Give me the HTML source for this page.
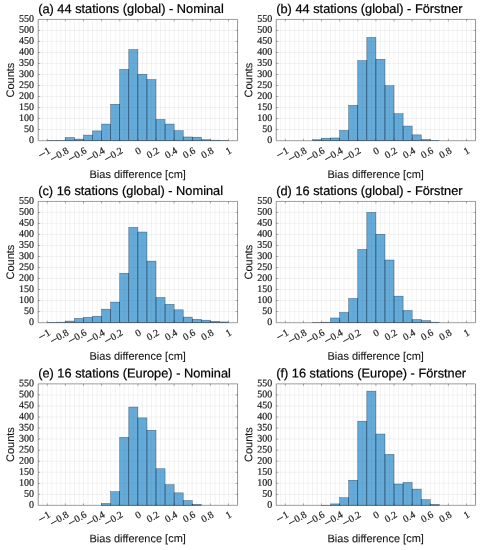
<!DOCTYPE html>
<html><head><meta charset="utf-8"><title>Bias difference histograms</title>
<style>html,body{margin:0;padding:0;background:#fff}svg{display:block}.s{font-family:"Liberation Sans",sans-serif;fill:#000;stroke:#000;stroke-width:0.22px}.l{fill:#151515;stroke:#151515;stroke-width:0.1px}.r{font-family:"Liberation Serif",serif;fill:#222;font-size:10px;stroke:#222;stroke-width:0.2px}</style></head><body>
<svg width="483" height="550" viewBox="0 0 483 550">
<rect width="483" height="550" fill="#fff"/>
<g>
<path d="M42.73 19.45V140.7M47.26 19.45V140.7M51.79 19.45V140.7M56.32 19.45V140.7M60.85 19.45V140.7M65.38 19.45V140.7M69.91 19.45V140.7M74.45 19.45V140.7M78.98 19.45V140.7M83.51 19.45V140.7M88.04 19.45V140.7M92.57 19.45V140.7M97.1 19.45V140.7M101.63 19.45V140.7M106.16 19.45V140.7M110.69 19.45V140.7M115.22 19.45V140.7M119.75 19.45V140.7M124.28 19.45V140.7M128.81 19.45V140.7M133.34 19.45V140.7M137.88 19.45V140.7M142.41 19.45V140.7M146.94 19.45V140.7M151.47 19.45V140.7M156 19.45V140.7M160.53 19.45V140.7M165.06 19.45V140.7M169.59 19.45V140.7M174.12 19.45V140.7M178.65 19.45V140.7M183.18 19.45V140.7M187.71 19.45V140.7M192.24 19.45V140.7M196.77 19.45V140.7M201.3 19.45V140.7M205.84 19.45V140.7M210.37 19.45V140.7M214.9 19.45V140.7M219.43 19.45V140.7M223.96 19.45V140.7M228.49 19.45V140.7M233.02 19.45V140.7M38.2 129.58H237.55M38.2 118.56H237.55M38.2 107.54H237.55M38.2 96.52H237.55M38.2 85.5H237.55M38.2 74.48H237.55M38.2 63.46H237.55M38.2 52.44H237.55M38.2 41.42H237.55M38.2 30.4H237.55" stroke="#262626" stroke-opacity="0.095" stroke-width="0.6" fill="none"/>
<rect x="47.26" y="140.38" width="9.06" height="0.32" fill="#0072bd" fill-opacity="0.6" stroke="#001a33" stroke-opacity="0.62" stroke-width="0.5"/>
<rect x="56.32" y="140.38" width="9.06" height="0.32" fill="#0072bd" fill-opacity="0.6" stroke="#001a33" stroke-opacity="0.62" stroke-width="0.5"/>
<rect x="65.38" y="137.51" width="9.06" height="3.19" fill="#0072bd" fill-opacity="0.6" stroke="#001a33" stroke-opacity="0.62" stroke-width="0.5"/>
<rect x="74.45" y="139.06" width="9.06" height="1.64" fill="#0072bd" fill-opacity="0.6" stroke="#001a33" stroke-opacity="0.62" stroke-width="0.5"/>
<rect x="83.51" y="135.09" width="9.06" height="5.61" fill="#0072bd" fill-opacity="0.6" stroke="#001a33" stroke-opacity="0.62" stroke-width="0.5"/>
<rect x="92.57" y="130.9" width="9.06" height="9.8" fill="#0072bd" fill-opacity="0.6" stroke="#001a33" stroke-opacity="0.62" stroke-width="0.5"/>
<rect x="101.63" y="124.07" width="9.06" height="16.63" fill="#0072bd" fill-opacity="0.6" stroke="#001a33" stroke-opacity="0.62" stroke-width="0.5"/>
<rect x="110.69" y="104.23" width="9.06" height="36.47" fill="#0072bd" fill-opacity="0.6" stroke="#001a33" stroke-opacity="0.62" stroke-width="0.5"/>
<rect x="119.75" y="69.41" width="9.06" height="71.29" fill="#0072bd" fill-opacity="0.6" stroke="#001a33" stroke-opacity="0.62" stroke-width="0.5"/>
<rect x="128.81" y="49.57" width="9.06" height="91.13" fill="#0072bd" fill-opacity="0.6" stroke="#001a33" stroke-opacity="0.62" stroke-width="0.5"/>
<rect x="137.88" y="74.26" width="9.06" height="66.44" fill="#0072bd" fill-opacity="0.6" stroke="#001a33" stroke-opacity="0.62" stroke-width="0.5"/>
<rect x="146.94" y="79.55" width="9.06" height="61.15" fill="#0072bd" fill-opacity="0.6" stroke="#001a33" stroke-opacity="0.62" stroke-width="0.5"/>
<rect x="156" y="119.44" width="9.06" height="21.26" fill="#0072bd" fill-opacity="0.6" stroke="#001a33" stroke-opacity="0.62" stroke-width="0.5"/>
<rect x="165.06" y="124.07" width="9.06" height="16.63" fill="#0072bd" fill-opacity="0.6" stroke="#001a33" stroke-opacity="0.62" stroke-width="0.5"/>
<rect x="174.12" y="130.68" width="9.06" height="10.02" fill="#0072bd" fill-opacity="0.6" stroke="#001a33" stroke-opacity="0.62" stroke-width="0.5"/>
<rect x="183.18" y="136.96" width="9.06" height="3.74" fill="#0072bd" fill-opacity="0.6" stroke="#001a33" stroke-opacity="0.62" stroke-width="0.5"/>
<rect x="192.24" y="137.18" width="9.06" height="3.52" fill="#0072bd" fill-opacity="0.6" stroke="#001a33" stroke-opacity="0.62" stroke-width="0.5"/>
<rect x="201.3" y="139.72" width="9.06" height="0.98" fill="#0072bd" fill-opacity="0.6" stroke="#001a33" stroke-opacity="0.62" stroke-width="0.5"/>
<rect x="210.37" y="140.16" width="9.06" height="0.54" fill="#0072bd" fill-opacity="0.6" stroke="#001a33" stroke-opacity="0.62" stroke-width="0.5"/>
<rect x="219.43" y="140.38" width="9.06" height="0.32" fill="#0072bd" fill-opacity="0.6" stroke="#001a33" stroke-opacity="0.62" stroke-width="0.5"/>
<path d="M38.2 19.45H237.55M38.2 140.7H237.55" fill="none" stroke="#262626" stroke-opacity="0.56" stroke-width="0.8"/>
<path d="M38.2 19.45V140.7M237.55 19.45V140.7" fill="none" stroke="#262626" stroke-opacity="0.62" stroke-width="0.8"/>
<path d="M47.26 140.7v-2M47.26 19.45v2M65.38 140.7v-2M65.38 19.45v2M83.51 140.7v-2M83.51 19.45v2M101.63 140.7v-2M101.63 19.45v2M119.75 140.7v-2M119.75 19.45v2M137.88 140.7v-2M137.88 19.45v2M156 140.7v-2M156 19.45v2M174.12 140.7v-2M174.12 19.45v2M192.24 140.7v-2M192.24 19.45v2M210.37 140.7v-2M210.37 19.45v2M228.49 140.7v-2M228.49 19.45v2M38.2 129.58h2M237.55 129.58h-2M38.2 118.56h2M237.55 118.56h-2M38.2 107.54h2M237.55 107.54h-2M38.2 96.52h2M237.55 96.52h-2M38.2 85.5h2M237.55 85.5h-2M38.2 74.48h2M237.55 74.48h-2M38.2 63.46h2M237.55 63.46h-2M38.2 52.44h2M237.55 52.44h-2M38.2 41.42h2M237.55 41.42h-2M38.2 30.4h2M237.55 30.4h-2" stroke="#262626" stroke-opacity="0.6" stroke-width="0.6" fill="none"/>
<text class="r" transform="translate(34.1 143) rotate(-0.05)" text-anchor="end">0</text>
<text class="r" transform="translate(34.1 131.98) rotate(-0.05)" text-anchor="end">50</text>
<text class="r" transform="translate(34.1 120.96) rotate(-0.05)" text-anchor="end">100</text>
<text class="r" transform="translate(34.1 109.94) rotate(-0.05)" text-anchor="end">150</text>
<text class="r" transform="translate(34.1 98.92) rotate(-0.05)" text-anchor="end">200</text>
<text class="r" transform="translate(34.1 87.9) rotate(-0.05)" text-anchor="end">250</text>
<text class="r" transform="translate(34.1 76.88) rotate(-0.05)" text-anchor="end">300</text>
<text class="r" transform="translate(34.1 65.86) rotate(-0.05)" text-anchor="end">350</text>
<text class="r" transform="translate(34.1 54.84) rotate(-0.05)" text-anchor="end">400</text>
<text class="r" transform="translate(34.1 43.82) rotate(-0.05)" text-anchor="end">450</text>
<text class="r" transform="translate(34.1 32.8) rotate(-0.05)" text-anchor="end">500</text>
<text class="r" transform="translate(34.1 21.78) rotate(-0.05)" text-anchor="end">550</text>
<g transform="translate(51.16 152.4) rotate(-30)"><text class="r" stroke-width="0" transform="translate(-12.55 0.5) scale(1.34 1)">−</text><text class="r" text-anchor="end">1</text></g>
<g transform="translate(69.28 152.4) rotate(-30)"><text class="r" stroke-width="0" transform="translate(-20.05 0.5) scale(1.34 1)">−</text><text class="r" text-anchor="end">0.8</text></g>
<g transform="translate(87.41 152.4) rotate(-30)"><text class="r" stroke-width="0" transform="translate(-20.05 0.5) scale(1.34 1)">−</text><text class="r" text-anchor="end">0.6</text></g>
<g transform="translate(105.53 152.4) rotate(-30)"><text class="r" stroke-width="0" transform="translate(-20.05 0.5) scale(1.34 1)">−</text><text class="r" text-anchor="end">0.4</text></g>
<g transform="translate(123.65 152.4) rotate(-30)"><text class="r" stroke-width="0" transform="translate(-20.05 0.5) scale(1.34 1)">−</text><text class="r" text-anchor="end">0.2</text></g>
<g transform="translate(141.78 152.4) rotate(-30)"><text class="r" text-anchor="end">0</text></g>
<g transform="translate(159.9 152.4) rotate(-30)"><text class="r" text-anchor="end">0.2</text></g>
<g transform="translate(178.02 152.4) rotate(-30)"><text class="r" text-anchor="end">0.4</text></g>
<g transform="translate(196.14 152.4) rotate(-30)"><text class="r" text-anchor="end">0.6</text></g>
<g transform="translate(214.27 152.4) rotate(-30)"><text class="r" text-anchor="end">0.8</text></g>
<g transform="translate(232.39 152.4) rotate(-30)"><text class="r" text-anchor="end">1</text></g>
<text class="s l" transform="translate(137.68 178) rotate(-0.05)" font-size="11" text-anchor="middle">Bias difference [cm]</text>
<text class="s l" transform="translate(14.1 80.07) rotate(-90.05)" font-size="11" text-anchor="middle">Counts</text>
<text class="s" transform="translate(38.15 13.15) rotate(-0.05)" font-size="12.8">(a) 44 stations (global) - Nominal</text>
</g>
<g>
<path d="M280.78 19.45V140.7M285.31 19.45V140.7M289.84 19.45V140.7M294.37 19.45V140.7M298.9 19.45V140.7M303.43 19.45V140.7M307.96 19.45V140.7M312.49 19.45V140.7M317.02 19.45V140.7M321.55 19.45V140.7M326.07 19.45V140.7M330.6 19.45V140.7M335.13 19.45V140.7M339.66 19.45V140.7M344.19 19.45V140.7M348.72 19.45V140.7M353.25 19.45V140.7M357.78 19.45V140.7M362.31 19.45V140.7M366.84 19.45V140.7M371.37 19.45V140.7M375.9 19.45V140.7M380.43 19.45V140.7M384.96 19.45V140.7M389.49 19.45V140.7M394.02 19.45V140.7M398.55 19.45V140.7M403.08 19.45V140.7M407.61 19.45V140.7M412.14 19.45V140.7M416.67 19.45V140.7M421.2 19.45V140.7M425.73 19.45V140.7M430.25 19.45V140.7M434.78 19.45V140.7M439.31 19.45V140.7M443.84 19.45V140.7M448.37 19.45V140.7M452.9 19.45V140.7M457.43 19.45V140.7M461.96 19.45V140.7M466.49 19.45V140.7M471.02 19.45V140.7M276.25 129.58H475.55M276.25 118.56H475.55M276.25 107.54H475.55M276.25 96.52H475.55M276.25 85.5H475.55M276.25 74.48H475.55M276.25 63.46H475.55M276.25 52.44H475.55M276.25 41.42H475.55M276.25 30.4H475.55" stroke="#262626" stroke-opacity="0.095" stroke-width="0.6" fill="none"/>
<rect x="312.49" y="139.72" width="9.06" height="0.98" fill="#0072bd" fill-opacity="0.6" stroke="#001a33" stroke-opacity="0.62" stroke-width="0.5"/>
<rect x="321.55" y="138.18" width="9.06" height="2.52" fill="#0072bd" fill-opacity="0.6" stroke="#001a33" stroke-opacity="0.62" stroke-width="0.5"/>
<rect x="330.6" y="137.96" width="9.06" height="2.74" fill="#0072bd" fill-opacity="0.6" stroke="#001a33" stroke-opacity="0.62" stroke-width="0.5"/>
<rect x="339.66" y="130.46" width="9.06" height="10.24" fill="#0072bd" fill-opacity="0.6" stroke="#001a33" stroke-opacity="0.62" stroke-width="0.5"/>
<rect x="348.72" y="105.34" width="9.06" height="35.36" fill="#0072bd" fill-opacity="0.6" stroke="#001a33" stroke-opacity="0.62" stroke-width="0.5"/>
<rect x="357.78" y="60.59" width="9.06" height="80.11" fill="#0072bd" fill-opacity="0.6" stroke="#001a33" stroke-opacity="0.62" stroke-width="0.5"/>
<rect x="366.84" y="37.45" width="9.06" height="103.25" fill="#0072bd" fill-opacity="0.6" stroke="#001a33" stroke-opacity="0.62" stroke-width="0.5"/>
<rect x="375.9" y="59.27" width="9.06" height="81.43" fill="#0072bd" fill-opacity="0.6" stroke="#001a33" stroke-opacity="0.62" stroke-width="0.5"/>
<rect x="384.96" y="85.72" width="9.06" height="54.98" fill="#0072bd" fill-opacity="0.6" stroke="#001a33" stroke-opacity="0.62" stroke-width="0.5"/>
<rect x="394.02" y="113.71" width="9.06" height="26.99" fill="#0072bd" fill-opacity="0.6" stroke="#001a33" stroke-opacity="0.62" stroke-width="0.5"/>
<rect x="403.08" y="126.05" width="9.06" height="14.65" fill="#0072bd" fill-opacity="0.6" stroke="#001a33" stroke-opacity="0.62" stroke-width="0.5"/>
<rect x="412.14" y="134.87" width="9.06" height="5.83" fill="#0072bd" fill-opacity="0.6" stroke="#001a33" stroke-opacity="0.62" stroke-width="0.5"/>
<rect x="421.2" y="139.5" width="9.06" height="1.2" fill="#0072bd" fill-opacity="0.6" stroke="#001a33" stroke-opacity="0.62" stroke-width="0.5"/>
<rect x="430.25" y="140.38" width="9.06" height="0.32" fill="#0072bd" fill-opacity="0.6" stroke="#001a33" stroke-opacity="0.62" stroke-width="0.5"/>
<path d="M276.25 19.45H475.55M276.25 140.7H475.55" fill="none" stroke="#262626" stroke-opacity="0.56" stroke-width="0.8"/>
<path d="M276.25 19.45V140.7M475.55 19.45V140.7" fill="none" stroke="#262626" stroke-opacity="0.62" stroke-width="0.8"/>
<path d="M285.31 140.7v-2M285.31 19.45v2M303.43 140.7v-2M303.43 19.45v2M321.55 140.7v-2M321.55 19.45v2M339.66 140.7v-2M339.66 19.45v2M357.78 140.7v-2M357.78 19.45v2M375.9 140.7v-2M375.9 19.45v2M394.02 140.7v-2M394.02 19.45v2M412.14 140.7v-2M412.14 19.45v2M430.25 140.7v-2M430.25 19.45v2M448.37 140.7v-2M448.37 19.45v2M466.49 140.7v-2M466.49 19.45v2M276.25 129.58h2M475.55 129.58h-2M276.25 118.56h2M475.55 118.56h-2M276.25 107.54h2M475.55 107.54h-2M276.25 96.52h2M475.55 96.52h-2M276.25 85.5h2M475.55 85.5h-2M276.25 74.48h2M475.55 74.48h-2M276.25 63.46h2M475.55 63.46h-2M276.25 52.44h2M475.55 52.44h-2M276.25 41.42h2M475.55 41.42h-2M276.25 30.4h2M475.55 30.4h-2" stroke="#262626" stroke-opacity="0.6" stroke-width="0.6" fill="none"/>
<text class="r" transform="translate(272.15 143) rotate(-0.05)" text-anchor="end">0</text>
<text class="r" transform="translate(272.15 131.98) rotate(-0.05)" text-anchor="end">50</text>
<text class="r" transform="translate(272.15 120.96) rotate(-0.05)" text-anchor="end">100</text>
<text class="r" transform="translate(272.15 109.94) rotate(-0.05)" text-anchor="end">150</text>
<text class="r" transform="translate(272.15 98.92) rotate(-0.05)" text-anchor="end">200</text>
<text class="r" transform="translate(272.15 87.9) rotate(-0.05)" text-anchor="end">250</text>
<text class="r" transform="translate(272.15 76.88) rotate(-0.05)" text-anchor="end">300</text>
<text class="r" transform="translate(272.15 65.86) rotate(-0.05)" text-anchor="end">350</text>
<text class="r" transform="translate(272.15 54.84) rotate(-0.05)" text-anchor="end">400</text>
<text class="r" transform="translate(272.15 43.82) rotate(-0.05)" text-anchor="end">450</text>
<text class="r" transform="translate(272.15 32.8) rotate(-0.05)" text-anchor="end">500</text>
<text class="r" transform="translate(272.15 21.78) rotate(-0.05)" text-anchor="end">550</text>
<g transform="translate(289.21 152.4) rotate(-30)"><text class="r" stroke-width="0" transform="translate(-12.55 0.5) scale(1.34 1)">−</text><text class="r" text-anchor="end">1</text></g>
<g transform="translate(307.33 152.4) rotate(-30)"><text class="r" stroke-width="0" transform="translate(-20.05 0.5) scale(1.34 1)">−</text><text class="r" text-anchor="end">0.8</text></g>
<g transform="translate(325.45 152.4) rotate(-30)"><text class="r" stroke-width="0" transform="translate(-20.05 0.5) scale(1.34 1)">−</text><text class="r" text-anchor="end">0.6</text></g>
<g transform="translate(343.56 152.4) rotate(-30)"><text class="r" stroke-width="0" transform="translate(-20.05 0.5) scale(1.34 1)">−</text><text class="r" text-anchor="end">0.4</text></g>
<g transform="translate(361.68 152.4) rotate(-30)"><text class="r" stroke-width="0" transform="translate(-20.05 0.5) scale(1.34 1)">−</text><text class="r" text-anchor="end">0.2</text></g>
<g transform="translate(379.8 152.4) rotate(-30)"><text class="r" text-anchor="end">0</text></g>
<g transform="translate(397.92 152.4) rotate(-30)"><text class="r" text-anchor="end">0.2</text></g>
<g transform="translate(416.04 152.4) rotate(-30)"><text class="r" text-anchor="end">0.4</text></g>
<g transform="translate(434.15 152.4) rotate(-30)"><text class="r" text-anchor="end">0.6</text></g>
<g transform="translate(452.27 152.4) rotate(-30)"><text class="r" text-anchor="end">0.8</text></g>
<g transform="translate(470.39 152.4) rotate(-30)"><text class="r" text-anchor="end">1</text></g>
<text class="s l" transform="translate(375.7 178) rotate(-0.05)" font-size="11" text-anchor="middle">Bias difference [cm]</text>
<text class="s l" transform="translate(252.15 80.07) rotate(-90.05)" font-size="11" text-anchor="middle">Counts</text>
<text class="s" transform="translate(276.2 13.15) rotate(-0.05)" font-size="12.8">(b) 44 stations (global) - Förstner</text>
</g>
<g>
<path d="M42.73 201.45V322.7M47.26 201.45V322.7M51.79 201.45V322.7M56.32 201.45V322.7M60.85 201.45V322.7M65.38 201.45V322.7M69.91 201.45V322.7M74.45 201.45V322.7M78.98 201.45V322.7M83.51 201.45V322.7M88.04 201.45V322.7M92.57 201.45V322.7M97.1 201.45V322.7M101.63 201.45V322.7M106.16 201.45V322.7M110.69 201.45V322.7M115.22 201.45V322.7M119.75 201.45V322.7M124.28 201.45V322.7M128.81 201.45V322.7M133.34 201.45V322.7M137.88 201.45V322.7M142.41 201.45V322.7M146.94 201.45V322.7M151.47 201.45V322.7M156 201.45V322.7M160.53 201.45V322.7M165.06 201.45V322.7M169.59 201.45V322.7M174.12 201.45V322.7M178.65 201.45V322.7M183.18 201.45V322.7M187.71 201.45V322.7M192.24 201.45V322.7M196.77 201.45V322.7M201.3 201.45V322.7M205.84 201.45V322.7M210.37 201.45V322.7M214.9 201.45V322.7M219.43 201.45V322.7M223.96 201.45V322.7M228.49 201.45V322.7M233.02 201.45V322.7M38.2 311.58H237.55M38.2 300.56H237.55M38.2 289.54H237.55M38.2 278.52H237.55M38.2 267.5H237.55M38.2 256.48H237.55M38.2 245.46H237.55M38.2 234.44H237.55M38.2 223.42H237.55M38.2 212.4H237.55" stroke="#262626" stroke-opacity="0.095" stroke-width="0.6" fill="none"/>
<rect x="47.26" y="322.38" width="9.06" height="0.32" fill="#0072bd" fill-opacity="0.6" stroke="#001a33" stroke-opacity="0.62" stroke-width="0.5"/>
<rect x="56.32" y="322.16" width="9.06" height="0.54" fill="#0072bd" fill-opacity="0.6" stroke="#001a33" stroke-opacity="0.62" stroke-width="0.5"/>
<rect x="65.38" y="321.06" width="9.06" height="1.64" fill="#0072bd" fill-opacity="0.6" stroke="#001a33" stroke-opacity="0.62" stroke-width="0.5"/>
<rect x="74.45" y="318.41" width="9.06" height="4.29" fill="#0072bd" fill-opacity="0.6" stroke="#001a33" stroke-opacity="0.62" stroke-width="0.5"/>
<rect x="83.51" y="317.31" width="9.06" height="5.39" fill="#0072bd" fill-opacity="0.6" stroke="#001a33" stroke-opacity="0.62" stroke-width="0.5"/>
<rect x="92.57" y="316.21" width="9.06" height="6.49" fill="#0072bd" fill-opacity="0.6" stroke="#001a33" stroke-opacity="0.62" stroke-width="0.5"/>
<rect x="101.63" y="309.16" width="9.06" height="13.54" fill="#0072bd" fill-opacity="0.6" stroke="#001a33" stroke-opacity="0.62" stroke-width="0.5"/>
<rect x="110.69" y="302.1" width="9.06" height="20.6" fill="#0072bd" fill-opacity="0.6" stroke="#001a33" stroke-opacity="0.62" stroke-width="0.5"/>
<rect x="119.75" y="273.23" width="9.06" height="49.47" fill="#0072bd" fill-opacity="0.6" stroke="#001a33" stroke-opacity="0.62" stroke-width="0.5"/>
<rect x="128.81" y="227.39" width="9.06" height="95.31" fill="#0072bd" fill-opacity="0.6" stroke="#001a33" stroke-opacity="0.62" stroke-width="0.5"/>
<rect x="137.88" y="232.02" width="9.06" height="90.68" fill="#0072bd" fill-opacity="0.6" stroke="#001a33" stroke-opacity="0.62" stroke-width="0.5"/>
<rect x="146.94" y="261.11" width="9.06" height="61.59" fill="#0072bd" fill-opacity="0.6" stroke="#001a33" stroke-opacity="0.62" stroke-width="0.5"/>
<rect x="156" y="297.47" width="9.06" height="25.23" fill="#0072bd" fill-opacity="0.6" stroke="#001a33" stroke-opacity="0.62" stroke-width="0.5"/>
<rect x="165.06" y="304.31" width="9.06" height="18.39" fill="#0072bd" fill-opacity="0.6" stroke="#001a33" stroke-opacity="0.62" stroke-width="0.5"/>
<rect x="174.12" y="309.82" width="9.06" height="12.88" fill="#0072bd" fill-opacity="0.6" stroke="#001a33" stroke-opacity="0.62" stroke-width="0.5"/>
<rect x="183.18" y="317.09" width="9.06" height="5.61" fill="#0072bd" fill-opacity="0.6" stroke="#001a33" stroke-opacity="0.62" stroke-width="0.5"/>
<rect x="192.24" y="319.29" width="9.06" height="3.41" fill="#0072bd" fill-opacity="0.6" stroke="#001a33" stroke-opacity="0.62" stroke-width="0.5"/>
<rect x="201.3" y="320.18" width="9.06" height="2.52" fill="#0072bd" fill-opacity="0.6" stroke="#001a33" stroke-opacity="0.62" stroke-width="0.5"/>
<rect x="210.37" y="321.28" width="9.06" height="1.42" fill="#0072bd" fill-opacity="0.6" stroke="#001a33" stroke-opacity="0.62" stroke-width="0.5"/>
<rect x="219.43" y="321.94" width="9.06" height="0.76" fill="#0072bd" fill-opacity="0.6" stroke="#001a33" stroke-opacity="0.62" stroke-width="0.5"/>
<path d="M38.2 201.45H237.55M38.2 322.7H237.55" fill="none" stroke="#262626" stroke-opacity="0.56" stroke-width="0.8"/>
<path d="M38.2 201.45V322.7M237.55 201.45V322.7" fill="none" stroke="#262626" stroke-opacity="0.62" stroke-width="0.8"/>
<path d="M47.26 322.7v-2M47.26 201.45v2M65.38 322.7v-2M65.38 201.45v2M83.51 322.7v-2M83.51 201.45v2M101.63 322.7v-2M101.63 201.45v2M119.75 322.7v-2M119.75 201.45v2M137.88 322.7v-2M137.88 201.45v2M156 322.7v-2M156 201.45v2M174.12 322.7v-2M174.12 201.45v2M192.24 322.7v-2M192.24 201.45v2M210.37 322.7v-2M210.37 201.45v2M228.49 322.7v-2M228.49 201.45v2M38.2 311.58h2M237.55 311.58h-2M38.2 300.56h2M237.55 300.56h-2M38.2 289.54h2M237.55 289.54h-2M38.2 278.52h2M237.55 278.52h-2M38.2 267.5h2M237.55 267.5h-2M38.2 256.48h2M237.55 256.48h-2M38.2 245.46h2M237.55 245.46h-2M38.2 234.44h2M237.55 234.44h-2M38.2 223.42h2M237.55 223.42h-2M38.2 212.4h2M237.55 212.4h-2" stroke="#262626" stroke-opacity="0.6" stroke-width="0.6" fill="none"/>
<text class="r" transform="translate(34.1 325) rotate(-0.05)" text-anchor="end">0</text>
<text class="r" transform="translate(34.1 313.98) rotate(-0.05)" text-anchor="end">50</text>
<text class="r" transform="translate(34.1 302.96) rotate(-0.05)" text-anchor="end">100</text>
<text class="r" transform="translate(34.1 291.94) rotate(-0.05)" text-anchor="end">150</text>
<text class="r" transform="translate(34.1 280.92) rotate(-0.05)" text-anchor="end">200</text>
<text class="r" transform="translate(34.1 269.9) rotate(-0.05)" text-anchor="end">250</text>
<text class="r" transform="translate(34.1 258.88) rotate(-0.05)" text-anchor="end">300</text>
<text class="r" transform="translate(34.1 247.86) rotate(-0.05)" text-anchor="end">350</text>
<text class="r" transform="translate(34.1 236.84) rotate(-0.05)" text-anchor="end">400</text>
<text class="r" transform="translate(34.1 225.82) rotate(-0.05)" text-anchor="end">450</text>
<text class="r" transform="translate(34.1 214.8) rotate(-0.05)" text-anchor="end">500</text>
<text class="r" transform="translate(34.1 203.78) rotate(-0.05)" text-anchor="end">550</text>
<g transform="translate(51.16 334.4) rotate(-30)"><text class="r" stroke-width="0" transform="translate(-12.55 0.5) scale(1.34 1)">−</text><text class="r" text-anchor="end">1</text></g>
<g transform="translate(69.28 334.4) rotate(-30)"><text class="r" stroke-width="0" transform="translate(-20.05 0.5) scale(1.34 1)">−</text><text class="r" text-anchor="end">0.8</text></g>
<g transform="translate(87.41 334.4) rotate(-30)"><text class="r" stroke-width="0" transform="translate(-20.05 0.5) scale(1.34 1)">−</text><text class="r" text-anchor="end">0.6</text></g>
<g transform="translate(105.53 334.4) rotate(-30)"><text class="r" stroke-width="0" transform="translate(-20.05 0.5) scale(1.34 1)">−</text><text class="r" text-anchor="end">0.4</text></g>
<g transform="translate(123.65 334.4) rotate(-30)"><text class="r" stroke-width="0" transform="translate(-20.05 0.5) scale(1.34 1)">−</text><text class="r" text-anchor="end">0.2</text></g>
<g transform="translate(141.78 334.4) rotate(-30)"><text class="r" text-anchor="end">0</text></g>
<g transform="translate(159.9 334.4) rotate(-30)"><text class="r" text-anchor="end">0.2</text></g>
<g transform="translate(178.02 334.4) rotate(-30)"><text class="r" text-anchor="end">0.4</text></g>
<g transform="translate(196.14 334.4) rotate(-30)"><text class="r" text-anchor="end">0.6</text></g>
<g transform="translate(214.27 334.4) rotate(-30)"><text class="r" text-anchor="end">0.8</text></g>
<g transform="translate(232.39 334.4) rotate(-30)"><text class="r" text-anchor="end">1</text></g>
<text class="s l" transform="translate(137.68 359.8) rotate(-0.05)" font-size="11" text-anchor="middle">Bias difference [cm]</text>
<text class="s l" transform="translate(14.1 262.07) rotate(-90.05)" font-size="11" text-anchor="middle">Counts</text>
<text class="s" transform="translate(38.15 195.15) rotate(-0.05)" font-size="12.8">(c) 16 stations (global) - Nominal</text>
</g>
<g>
<path d="M280.78 201.45V322.7M285.31 201.45V322.7M289.84 201.45V322.7M294.37 201.45V322.7M298.9 201.45V322.7M303.43 201.45V322.7M307.96 201.45V322.7M312.49 201.45V322.7M317.02 201.45V322.7M321.55 201.45V322.7M326.07 201.45V322.7M330.6 201.45V322.7M335.13 201.45V322.7M339.66 201.45V322.7M344.19 201.45V322.7M348.72 201.45V322.7M353.25 201.45V322.7M357.78 201.45V322.7M362.31 201.45V322.7M366.84 201.45V322.7M371.37 201.45V322.7M375.9 201.45V322.7M380.43 201.45V322.7M384.96 201.45V322.7M389.49 201.45V322.7M394.02 201.45V322.7M398.55 201.45V322.7M403.08 201.45V322.7M407.61 201.45V322.7M412.14 201.45V322.7M416.67 201.45V322.7M421.2 201.45V322.7M425.73 201.45V322.7M430.25 201.45V322.7M434.78 201.45V322.7M439.31 201.45V322.7M443.84 201.45V322.7M448.37 201.45V322.7M452.9 201.45V322.7M457.43 201.45V322.7M461.96 201.45V322.7M466.49 201.45V322.7M471.02 201.45V322.7M276.25 311.58H475.55M276.25 300.56H475.55M276.25 289.54H475.55M276.25 278.52H475.55M276.25 267.5H475.55M276.25 256.48H475.55M276.25 245.46H475.55M276.25 234.44H475.55M276.25 223.42H475.55M276.25 212.4H475.55" stroke="#262626" stroke-opacity="0.095" stroke-width="0.6" fill="none"/>
<rect x="312.49" y="322.49" width="9.06" height="0.21" fill="#0072bd" fill-opacity="0.6" stroke="#001a33" stroke-opacity="0.62" stroke-width="0.5"/>
<rect x="321.55" y="322.16" width="9.06" height="0.54" fill="#0072bd" fill-opacity="0.6" stroke="#001a33" stroke-opacity="0.62" stroke-width="0.5"/>
<rect x="330.6" y="317.97" width="9.06" height="4.73" fill="#0072bd" fill-opacity="0.6" stroke="#001a33" stroke-opacity="0.62" stroke-width="0.5"/>
<rect x="339.66" y="312.46" width="9.06" height="10.24" fill="#0072bd" fill-opacity="0.6" stroke="#001a33" stroke-opacity="0.62" stroke-width="0.5"/>
<rect x="348.72" y="298.58" width="9.06" height="24.12" fill="#0072bd" fill-opacity="0.6" stroke="#001a33" stroke-opacity="0.62" stroke-width="0.5"/>
<rect x="357.78" y="249.43" width="9.06" height="73.27" fill="#0072bd" fill-opacity="0.6" stroke="#001a33" stroke-opacity="0.62" stroke-width="0.5"/>
<rect x="366.84" y="212.4" width="9.06" height="110.3" fill="#0072bd" fill-opacity="0.6" stroke="#001a33" stroke-opacity="0.62" stroke-width="0.5"/>
<rect x="375.9" y="234.22" width="9.06" height="88.48" fill="#0072bd" fill-opacity="0.6" stroke="#001a33" stroke-opacity="0.62" stroke-width="0.5"/>
<rect x="384.96" y="260.01" width="9.06" height="62.69" fill="#0072bd" fill-opacity="0.6" stroke="#001a33" stroke-opacity="0.62" stroke-width="0.5"/>
<rect x="394.02" y="296.15" width="9.06" height="26.55" fill="#0072bd" fill-opacity="0.6" stroke="#001a33" stroke-opacity="0.62" stroke-width="0.5"/>
<rect x="403.08" y="310.48" width="9.06" height="12.22" fill="#0072bd" fill-opacity="0.6" stroke="#001a33" stroke-opacity="0.62" stroke-width="0.5"/>
<rect x="412.14" y="319.51" width="9.06" height="3.19" fill="#0072bd" fill-opacity="0.6" stroke="#001a33" stroke-opacity="0.62" stroke-width="0.5"/>
<rect x="421.2" y="320.62" width="9.06" height="2.08" fill="#0072bd" fill-opacity="0.6" stroke="#001a33" stroke-opacity="0.62" stroke-width="0.5"/>
<rect x="430.25" y="322.16" width="9.06" height="0.54" fill="#0072bd" fill-opacity="0.6" stroke="#001a33" stroke-opacity="0.62" stroke-width="0.5"/>
<path d="M276.25 201.45H475.55M276.25 322.7H475.55" fill="none" stroke="#262626" stroke-opacity="0.56" stroke-width="0.8"/>
<path d="M276.25 201.45V322.7M475.55 201.45V322.7" fill="none" stroke="#262626" stroke-opacity="0.62" stroke-width="0.8"/>
<path d="M285.31 322.7v-2M285.31 201.45v2M303.43 322.7v-2M303.43 201.45v2M321.55 322.7v-2M321.55 201.45v2M339.66 322.7v-2M339.66 201.45v2M357.78 322.7v-2M357.78 201.45v2M375.9 322.7v-2M375.9 201.45v2M394.02 322.7v-2M394.02 201.45v2M412.14 322.7v-2M412.14 201.45v2M430.25 322.7v-2M430.25 201.45v2M448.37 322.7v-2M448.37 201.45v2M466.49 322.7v-2M466.49 201.45v2M276.25 311.58h2M475.55 311.58h-2M276.25 300.56h2M475.55 300.56h-2M276.25 289.54h2M475.55 289.54h-2M276.25 278.52h2M475.55 278.52h-2M276.25 267.5h2M475.55 267.5h-2M276.25 256.48h2M475.55 256.48h-2M276.25 245.46h2M475.55 245.46h-2M276.25 234.44h2M475.55 234.44h-2M276.25 223.42h2M475.55 223.42h-2M276.25 212.4h2M475.55 212.4h-2" stroke="#262626" stroke-opacity="0.6" stroke-width="0.6" fill="none"/>
<text class="r" transform="translate(272.15 325) rotate(-0.05)" text-anchor="end">0</text>
<text class="r" transform="translate(272.15 313.98) rotate(-0.05)" text-anchor="end">50</text>
<text class="r" transform="translate(272.15 302.96) rotate(-0.05)" text-anchor="end">100</text>
<text class="r" transform="translate(272.15 291.94) rotate(-0.05)" text-anchor="end">150</text>
<text class="r" transform="translate(272.15 280.92) rotate(-0.05)" text-anchor="end">200</text>
<text class="r" transform="translate(272.15 269.9) rotate(-0.05)" text-anchor="end">250</text>
<text class="r" transform="translate(272.15 258.88) rotate(-0.05)" text-anchor="end">300</text>
<text class="r" transform="translate(272.15 247.86) rotate(-0.05)" text-anchor="end">350</text>
<text class="r" transform="translate(272.15 236.84) rotate(-0.05)" text-anchor="end">400</text>
<text class="r" transform="translate(272.15 225.82) rotate(-0.05)" text-anchor="end">450</text>
<text class="r" transform="translate(272.15 214.8) rotate(-0.05)" text-anchor="end">500</text>
<text class="r" transform="translate(272.15 203.78) rotate(-0.05)" text-anchor="end">550</text>
<g transform="translate(289.21 334.4) rotate(-30)"><text class="r" stroke-width="0" transform="translate(-12.55 0.5) scale(1.34 1)">−</text><text class="r" text-anchor="end">1</text></g>
<g transform="translate(307.33 334.4) rotate(-30)"><text class="r" stroke-width="0" transform="translate(-20.05 0.5) scale(1.34 1)">−</text><text class="r" text-anchor="end">0.8</text></g>
<g transform="translate(325.45 334.4) rotate(-30)"><text class="r" stroke-width="0" transform="translate(-20.05 0.5) scale(1.34 1)">−</text><text class="r" text-anchor="end">0.6</text></g>
<g transform="translate(343.56 334.4) rotate(-30)"><text class="r" stroke-width="0" transform="translate(-20.05 0.5) scale(1.34 1)">−</text><text class="r" text-anchor="end">0.4</text></g>
<g transform="translate(361.68 334.4) rotate(-30)"><text class="r" stroke-width="0" transform="translate(-20.05 0.5) scale(1.34 1)">−</text><text class="r" text-anchor="end">0.2</text></g>
<g transform="translate(379.8 334.4) rotate(-30)"><text class="r" text-anchor="end">0</text></g>
<g transform="translate(397.92 334.4) rotate(-30)"><text class="r" text-anchor="end">0.2</text></g>
<g transform="translate(416.04 334.4) rotate(-30)"><text class="r" text-anchor="end">0.4</text></g>
<g transform="translate(434.15 334.4) rotate(-30)"><text class="r" text-anchor="end">0.6</text></g>
<g transform="translate(452.27 334.4) rotate(-30)"><text class="r" text-anchor="end">0.8</text></g>
<g transform="translate(470.39 334.4) rotate(-30)"><text class="r" text-anchor="end">1</text></g>
<text class="s l" transform="translate(375.7 359.8) rotate(-0.05)" font-size="11" text-anchor="middle">Bias difference [cm]</text>
<text class="s l" transform="translate(252.15 262.07) rotate(-90.05)" font-size="11" text-anchor="middle">Counts</text>
<text class="s" transform="translate(276.2 195.15) rotate(-0.05)" font-size="12.8">(d) 16 stations (global) - Förstner</text>
</g>
<g>
<path d="M42.73 383.85V505.35M47.26 383.85V505.35M51.79 383.85V505.35M56.32 383.85V505.35M60.85 383.85V505.35M65.38 383.85V505.35M69.91 383.85V505.35M74.45 383.85V505.35M78.98 383.85V505.35M83.51 383.85V505.35M88.04 383.85V505.35M92.57 383.85V505.35M97.1 383.85V505.35M101.63 383.85V505.35M106.16 383.85V505.35M110.69 383.85V505.35M115.22 383.85V505.35M119.75 383.85V505.35M124.28 383.85V505.35M128.81 383.85V505.35M133.34 383.85V505.35M137.88 383.85V505.35M142.41 383.85V505.35M146.94 383.85V505.35M151.47 383.85V505.35M156 383.85V505.35M160.53 383.85V505.35M165.06 383.85V505.35M169.59 383.85V505.35M174.12 383.85V505.35M178.65 383.85V505.35M183.18 383.85V505.35M187.71 383.85V505.35M192.24 383.85V505.35M196.77 383.85V505.35M201.3 383.85V505.35M205.84 383.85V505.35M210.37 383.85V505.35M214.9 383.85V505.35M219.43 383.85V505.35M223.96 383.85V505.35M228.49 383.85V505.35M233.02 383.85V505.35M38.2 494.39H237.55M38.2 483.34H237.55M38.2 472.28H237.55M38.2 461.23H237.55M38.2 450.18H237.55M38.2 439.12H237.55M38.2 428.06H237.55M38.2 417.01H237.55M38.2 405.95H237.55M38.2 394.9H237.55" stroke="#262626" stroke-opacity="0.095" stroke-width="0.6" fill="none"/>
<rect x="101.63" y="503.46" width="9.06" height="1.89" fill="#0072bd" fill-opacity="0.6" stroke="#001a33" stroke-opacity="0.62" stroke-width="0.5"/>
<rect x="110.69" y="491.74" width="9.06" height="13.61" fill="#0072bd" fill-opacity="0.6" stroke="#001a33" stroke-opacity="0.62" stroke-width="0.5"/>
<rect x="119.75" y="437.35" width="9.06" height="68" fill="#0072bd" fill-opacity="0.6" stroke="#001a33" stroke-opacity="0.62" stroke-width="0.5"/>
<rect x="128.81" y="407.06" width="9.06" height="98.29" fill="#0072bd" fill-opacity="0.6" stroke="#001a33" stroke-opacity="0.62" stroke-width="0.5"/>
<rect x="137.88" y="417.89" width="9.06" height="87.46" fill="#0072bd" fill-opacity="0.6" stroke="#001a33" stroke-opacity="0.62" stroke-width="0.5"/>
<rect x="146.94" y="430.28" width="9.06" height="75.07" fill="#0072bd" fill-opacity="0.6" stroke="#001a33" stroke-opacity="0.62" stroke-width="0.5"/>
<rect x="156" y="468.75" width="9.06" height="36.6" fill="#0072bd" fill-opacity="0.6" stroke="#001a33" stroke-opacity="0.62" stroke-width="0.5"/>
<rect x="165.06" y="484.67" width="9.06" height="20.68" fill="#0072bd" fill-opacity="0.6" stroke="#001a33" stroke-opacity="0.62" stroke-width="0.5"/>
<rect x="174.12" y="492.85" width="9.06" height="12.5" fill="#0072bd" fill-opacity="0.6" stroke="#001a33" stroke-opacity="0.62" stroke-width="0.5"/>
<rect x="183.18" y="500.59" width="9.06" height="4.76" fill="#0072bd" fill-opacity="0.6" stroke="#001a33" stroke-opacity="0.62" stroke-width="0.5"/>
<rect x="192.24" y="504.34" width="9.06" height="1.01" fill="#0072bd" fill-opacity="0.6" stroke="#001a33" stroke-opacity="0.62" stroke-width="0.5"/>
<path d="M38.2 383.85H237.55M38.2 505.35H237.55" fill="none" stroke="#262626" stroke-opacity="0.56" stroke-width="0.8"/>
<path d="M38.2 383.85V505.35M237.55 383.85V505.35" fill="none" stroke="#262626" stroke-opacity="0.62" stroke-width="0.8"/>
<path d="M47.26 505.35v-2M47.26 383.85v2M65.38 505.35v-2M65.38 383.85v2M83.51 505.35v-2M83.51 383.85v2M101.63 505.35v-2M101.63 383.85v2M119.75 505.35v-2M119.75 383.85v2M137.88 505.35v-2M137.88 383.85v2M156 505.35v-2M156 383.85v2M174.12 505.35v-2M174.12 383.85v2M192.24 505.35v-2M192.24 383.85v2M210.37 505.35v-2M210.37 383.85v2M228.49 505.35v-2M228.49 383.85v2M38.2 494.39h2M237.55 494.39h-2M38.2 483.34h2M237.55 483.34h-2M38.2 472.28h2M237.55 472.28h-2M38.2 461.23h2M237.55 461.23h-2M38.2 450.18h2M237.55 450.18h-2M38.2 439.12h2M237.55 439.12h-2M38.2 428.06h2M237.55 428.06h-2M38.2 417.01h2M237.55 417.01h-2M38.2 405.95h2M237.55 405.95h-2M38.2 394.9h2M237.55 394.9h-2" stroke="#262626" stroke-opacity="0.6" stroke-width="0.6" fill="none"/>
<text class="r" transform="translate(34.1 507.85) rotate(-0.05)" text-anchor="end">0</text>
<text class="r" transform="translate(34.1 496.79) rotate(-0.05)" text-anchor="end">50</text>
<text class="r" transform="translate(34.1 485.74) rotate(-0.05)" text-anchor="end">100</text>
<text class="r" transform="translate(34.1 474.68) rotate(-0.05)" text-anchor="end">150</text>
<text class="r" transform="translate(34.1 463.63) rotate(-0.05)" text-anchor="end">200</text>
<text class="r" transform="translate(34.1 452.57) rotate(-0.05)" text-anchor="end">250</text>
<text class="r" transform="translate(34.1 441.52) rotate(-0.05)" text-anchor="end">300</text>
<text class="r" transform="translate(34.1 430.46) rotate(-0.05)" text-anchor="end">350</text>
<text class="r" transform="translate(34.1 419.41) rotate(-0.05)" text-anchor="end">400</text>
<text class="r" transform="translate(34.1 408.35) rotate(-0.05)" text-anchor="end">450</text>
<text class="r" transform="translate(34.1 397.3) rotate(-0.05)" text-anchor="end">500</text>
<text class="r" transform="translate(34.1 386.25) rotate(-0.05)" text-anchor="end">550</text>
<g transform="translate(51.16 516.45) rotate(-30)"><text class="r" stroke-width="0" transform="translate(-12.55 0.5) scale(1.34 1)">−</text><text class="r" text-anchor="end">1</text></g>
<g transform="translate(69.28 516.45) rotate(-30)"><text class="r" stroke-width="0" transform="translate(-20.05 0.5) scale(1.34 1)">−</text><text class="r" text-anchor="end">0.8</text></g>
<g transform="translate(87.41 516.45) rotate(-30)"><text class="r" stroke-width="0" transform="translate(-20.05 0.5) scale(1.34 1)">−</text><text class="r" text-anchor="end">0.6</text></g>
<g transform="translate(105.53 516.45) rotate(-30)"><text class="r" stroke-width="0" transform="translate(-20.05 0.5) scale(1.34 1)">−</text><text class="r" text-anchor="end">0.4</text></g>
<g transform="translate(123.65 516.45) rotate(-30)"><text class="r" stroke-width="0" transform="translate(-20.05 0.5) scale(1.34 1)">−</text><text class="r" text-anchor="end">0.2</text></g>
<g transform="translate(141.78 516.45) rotate(-30)"><text class="r" text-anchor="end">0</text></g>
<g transform="translate(159.9 516.45) rotate(-30)"><text class="r" text-anchor="end">0.2</text></g>
<g transform="translate(178.02 516.45) rotate(-30)"><text class="r" text-anchor="end">0.4</text></g>
<g transform="translate(196.14 516.45) rotate(-30)"><text class="r" text-anchor="end">0.6</text></g>
<g transform="translate(214.27 516.45) rotate(-30)"><text class="r" text-anchor="end">0.8</text></g>
<g transform="translate(232.39 516.45) rotate(-30)"><text class="r" text-anchor="end">1</text></g>
<text class="s l" transform="translate(137.68 542.15) rotate(-0.05)" font-size="11" text-anchor="middle">Bias difference [cm]</text>
<text class="s l" transform="translate(14.1 444.6) rotate(-90.05)" font-size="11" text-anchor="middle">Counts</text>
<text class="s" transform="translate(38.15 377.55) rotate(-0.05)" font-size="12.8">(e) 16 stations (Europe) - Nominal</text>
</g>
<g>
<path d="M280.78 383.85V505.35M285.31 383.85V505.35M289.84 383.85V505.35M294.37 383.85V505.35M298.9 383.85V505.35M303.43 383.85V505.35M307.96 383.85V505.35M312.49 383.85V505.35M317.02 383.85V505.35M321.55 383.85V505.35M326.07 383.85V505.35M330.6 383.85V505.35M335.13 383.85V505.35M339.66 383.85V505.35M344.19 383.85V505.35M348.72 383.85V505.35M353.25 383.85V505.35M357.78 383.85V505.35M362.31 383.85V505.35M366.84 383.85V505.35M371.37 383.85V505.35M375.9 383.85V505.35M380.43 383.85V505.35M384.96 383.85V505.35M389.49 383.85V505.35M394.02 383.85V505.35M398.55 383.85V505.35M403.08 383.85V505.35M407.61 383.85V505.35M412.14 383.85V505.35M416.67 383.85V505.35M421.2 383.85V505.35M425.73 383.85V505.35M430.25 383.85V505.35M434.78 383.85V505.35M439.31 383.85V505.35M443.84 383.85V505.35M448.37 383.85V505.35M452.9 383.85V505.35M457.43 383.85V505.35M461.96 383.85V505.35M466.49 383.85V505.35M471.02 383.85V505.35M276.25 494.39H475.55M276.25 483.34H475.55M276.25 472.28H475.55M276.25 461.23H475.55M276.25 450.18H475.55M276.25 439.12H475.55M276.25 428.06H475.55M276.25 417.01H475.55M276.25 405.95H475.55M276.25 394.9H475.55" stroke="#262626" stroke-opacity="0.095" stroke-width="0.6" fill="none"/>
<rect x="321.55" y="505.34" width="9.06" height="0.01" fill="#0072bd" fill-opacity="0.6" stroke="#001a33" stroke-opacity="0.62" stroke-width="0.5"/>
<rect x="330.6" y="503.9" width="9.06" height="1.45" fill="#0072bd" fill-opacity="0.6" stroke="#001a33" stroke-opacity="0.62" stroke-width="0.5"/>
<rect x="339.66" y="497.71" width="9.06" height="7.64" fill="#0072bd" fill-opacity="0.6" stroke="#001a33" stroke-opacity="0.62" stroke-width="0.5"/>
<rect x="348.72" y="480.24" width="9.06" height="25.11" fill="#0072bd" fill-opacity="0.6" stroke="#001a33" stroke-opacity="0.62" stroke-width="0.5"/>
<rect x="357.78" y="421.21" width="9.06" height="84.14" fill="#0072bd" fill-opacity="0.6" stroke="#001a33" stroke-opacity="0.62" stroke-width="0.5"/>
<rect x="366.84" y="391.14" width="9.06" height="114.21" fill="#0072bd" fill-opacity="0.6" stroke="#001a33" stroke-opacity="0.62" stroke-width="0.5"/>
<rect x="375.9" y="434.03" width="9.06" height="71.32" fill="#0072bd" fill-opacity="0.6" stroke="#001a33" stroke-opacity="0.62" stroke-width="0.5"/>
<rect x="384.96" y="454.38" width="9.06" height="50.97" fill="#0072bd" fill-opacity="0.6" stroke="#001a33" stroke-opacity="0.62" stroke-width="0.5"/>
<rect x="394.02" y="484" width="9.06" height="21.35" fill="#0072bd" fill-opacity="0.6" stroke="#001a33" stroke-opacity="0.62" stroke-width="0.5"/>
<rect x="403.08" y="482.46" width="9.06" height="22.89" fill="#0072bd" fill-opacity="0.6" stroke="#001a33" stroke-opacity="0.62" stroke-width="0.5"/>
<rect x="412.14" y="489.09" width="9.06" height="16.26" fill="#0072bd" fill-opacity="0.6" stroke="#001a33" stroke-opacity="0.62" stroke-width="0.5"/>
<rect x="421.2" y="499.7" width="9.06" height="5.65" fill="#0072bd" fill-opacity="0.6" stroke="#001a33" stroke-opacity="0.62" stroke-width="0.5"/>
<rect x="430.25" y="504.34" width="9.06" height="1.01" fill="#0072bd" fill-opacity="0.6" stroke="#001a33" stroke-opacity="0.62" stroke-width="0.5"/>
<path d="M276.25 383.85H475.55M276.25 505.35H475.55" fill="none" stroke="#262626" stroke-opacity="0.56" stroke-width="0.8"/>
<path d="M276.25 383.85V505.35M475.55 383.85V505.35" fill="none" stroke="#262626" stroke-opacity="0.62" stroke-width="0.8"/>
<path d="M285.31 505.35v-2M285.31 383.85v2M303.43 505.35v-2M303.43 383.85v2M321.55 505.35v-2M321.55 383.85v2M339.66 505.35v-2M339.66 383.85v2M357.78 505.35v-2M357.78 383.85v2M375.9 505.35v-2M375.9 383.85v2M394.02 505.35v-2M394.02 383.85v2M412.14 505.35v-2M412.14 383.85v2M430.25 505.35v-2M430.25 383.85v2M448.37 505.35v-2M448.37 383.85v2M466.49 505.35v-2M466.49 383.85v2M276.25 494.39h2M475.55 494.39h-2M276.25 483.34h2M475.55 483.34h-2M276.25 472.28h2M475.55 472.28h-2M276.25 461.23h2M475.55 461.23h-2M276.25 450.18h2M475.55 450.18h-2M276.25 439.12h2M475.55 439.12h-2M276.25 428.06h2M475.55 428.06h-2M276.25 417.01h2M475.55 417.01h-2M276.25 405.95h2M475.55 405.95h-2M276.25 394.9h2M475.55 394.9h-2" stroke="#262626" stroke-opacity="0.6" stroke-width="0.6" fill="none"/>
<text class="r" transform="translate(272.15 507.85) rotate(-0.05)" text-anchor="end">0</text>
<text class="r" transform="translate(272.15 496.79) rotate(-0.05)" text-anchor="end">50</text>
<text class="r" transform="translate(272.15 485.74) rotate(-0.05)" text-anchor="end">100</text>
<text class="r" transform="translate(272.15 474.68) rotate(-0.05)" text-anchor="end">150</text>
<text class="r" transform="translate(272.15 463.63) rotate(-0.05)" text-anchor="end">200</text>
<text class="r" transform="translate(272.15 452.57) rotate(-0.05)" text-anchor="end">250</text>
<text class="r" transform="translate(272.15 441.52) rotate(-0.05)" text-anchor="end">300</text>
<text class="r" transform="translate(272.15 430.46) rotate(-0.05)" text-anchor="end">350</text>
<text class="r" transform="translate(272.15 419.41) rotate(-0.05)" text-anchor="end">400</text>
<text class="r" transform="translate(272.15 408.35) rotate(-0.05)" text-anchor="end">450</text>
<text class="r" transform="translate(272.15 397.3) rotate(-0.05)" text-anchor="end">500</text>
<text class="r" transform="translate(272.15 386.25) rotate(-0.05)" text-anchor="end">550</text>
<g transform="translate(289.21 516.45) rotate(-30)"><text class="r" stroke-width="0" transform="translate(-12.55 0.5) scale(1.34 1)">−</text><text class="r" text-anchor="end">1</text></g>
<g transform="translate(307.33 516.45) rotate(-30)"><text class="r" stroke-width="0" transform="translate(-20.05 0.5) scale(1.34 1)">−</text><text class="r" text-anchor="end">0.8</text></g>
<g transform="translate(325.45 516.45) rotate(-30)"><text class="r" stroke-width="0" transform="translate(-20.05 0.5) scale(1.34 1)">−</text><text class="r" text-anchor="end">0.6</text></g>
<g transform="translate(343.56 516.45) rotate(-30)"><text class="r" stroke-width="0" transform="translate(-20.05 0.5) scale(1.34 1)">−</text><text class="r" text-anchor="end">0.4</text></g>
<g transform="translate(361.68 516.45) rotate(-30)"><text class="r" stroke-width="0" transform="translate(-20.05 0.5) scale(1.34 1)">−</text><text class="r" text-anchor="end">0.2</text></g>
<g transform="translate(379.8 516.45) rotate(-30)"><text class="r" text-anchor="end">0</text></g>
<g transform="translate(397.92 516.45) rotate(-30)"><text class="r" text-anchor="end">0.2</text></g>
<g transform="translate(416.04 516.45) rotate(-30)"><text class="r" text-anchor="end">0.4</text></g>
<g transform="translate(434.15 516.45) rotate(-30)"><text class="r" text-anchor="end">0.6</text></g>
<g transform="translate(452.27 516.45) rotate(-30)"><text class="r" text-anchor="end">0.8</text></g>
<g transform="translate(470.39 516.45) rotate(-30)"><text class="r" text-anchor="end">1</text></g>
<text class="s l" transform="translate(375.7 542.15) rotate(-0.05)" font-size="11" text-anchor="middle">Bias difference [cm]</text>
<text class="s l" transform="translate(252.15 444.6) rotate(-90.05)" font-size="11" text-anchor="middle">Counts</text>
<text class="s" transform="translate(276.2 377.55) rotate(-0.05)" font-size="12.8">(f) 16 stations (Europe) - Förstner</text>
</g>
</svg></body></html>
